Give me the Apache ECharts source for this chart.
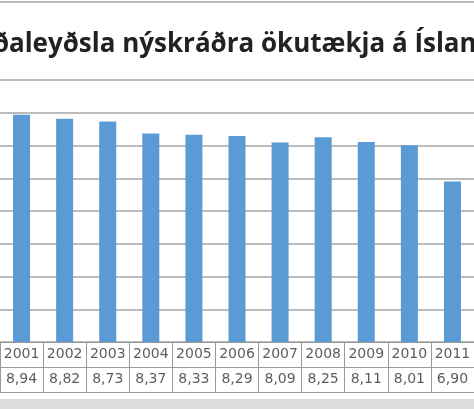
<!DOCTYPE html>
<html>
<head>
<meta charset="utf-8">
<script src="https://cdn.jsdelivr.net/npm/echarts@6/dist/echarts.min.js"></script>
<style>html,body{margin:0;padding:0;background:#fff}#c{width:474px;height:409px}</style>
</head>
<body>
<div id="c"></div>
<script>
var years = ['2001', '2002', '2003', '2004', '2005', '2006', '2007', '2008', '2009', '2010', '2011']
var values = [8.94, 8.82, 8.73, 8.37, 8.33, 8.29, 8.09, 8.25, 8.11, 8.01, 6.90]
var titleText = 'Meðaleyðsla nýskráðra ökutækja á Íslandi'

var fmt = function (v) { return v.toFixed(2).replace('.', ',') }
var tableData = []
years.forEach(function (y, i) {
  tableData.push({ value: [i, 1], label: { formatter: y } })
  tableData.push({ value: [i, 0], label: { formatter: fmt(values[i]) } })
})

var chart = echarts.init(document.getElementById('c'))
chart.setOption({
  animation: false,
  title: {
    text: titleText, left: -52, top: 27,
    textStyle: { fontFamily: 'Open Sans', fontWeight: 'bold', fontSize: 26, color: '#222' }
  },
  graphic: [
    { type: 'rect', shape: { x: 0, y: 1, width: 474, height: 2 }, style: { fill: '#bbb' } },
    { type: 'rect', shape: { x: 0, y: 399, width: 474, height: 10 }, style: { fill: '#ddd' } }
  ],
  grid: [
    { left: -10, width: 499, top: 80, height: 262 },
    { left: -10, width: 499, top: 342, height: 50 }
  ],
  xAxis: [
    { type: 'category', data: years, gridIndex: 0, axisLine: { show: false }, axisTick: { show: false }, axisLabel: { show: false } },
    { type: 'category', data: years, gridIndex: 1, axisLine: { lineStyle: { color: '#999' } }, axisTick: { show: false }, axisLabel: { show: false },
      splitLine: { show: true, lineStyle: { color: '#999' } } }
  ],
  yAxis: [
    { type: 'value', gridIndex: 0, min: 2, max: 10, interval: 1, axisLabel: { show: false },
      axisLine: { show: false }, splitLine: { lineStyle: { color: '#a6a6a6', width: 1.5 } } },
    { type: 'category', data: ['v', 'y'], gridIndex: 1, axisLabel: { show: false }, axisTick: { show: false },
      axisLine: { show: false }, splitLine: { show: true, lineStyle: { color: '#999' } } }
  ],
  series: [
    { type: 'bar', data: values, barWidth: 17, itemStyle: { color: '#5b9bd5' }, xAxisIndex: 0, yAxisIndex: 0 },
    { type: 'scatter', data: tableData, xAxisIndex: 1, yAxisIndex: 1, symbolSize: 0, silent: true,
      label: { show: true, position: 'inside', fontFamily: 'DejaVu Sans', fontSize: 14, color: '#333' } }
  ]
})
</script>
</body>
</html>
